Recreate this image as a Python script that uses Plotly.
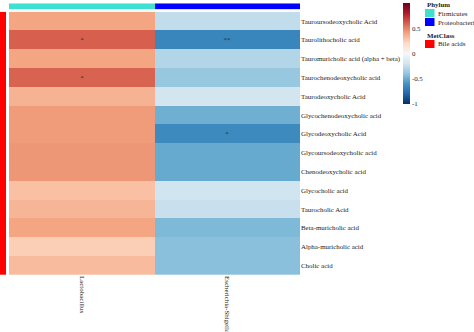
import plotly.graph_objects as go

# Bile-acid metabolites (rows) and genera (columns)
metabolites = [
    "Tauroursodeoxycholic Acid",
    "Taurolithocholic acid",
    "Tauromuricholic acid (alpha + beta)",
    "Taurochenodeoxycholic acid",
    "Taurodeoxycholic Acid",
    "Glycochenodeoxycholic acid",
    "Glycodeoxycholic Acid",
    "Glycoursodeoxycholic acid",
    "Chenodeoxycholic acid",
    "Glycocholic acid",
    "Taurocholic Acid",
    "Beta-muricholic acid",
    "Alpha-muricholic acid",
    "Cholic acid",
]
genera = ["Lactobacillus", "Escherichia-Shigella"]
phylum = ["Firmicutes", "Proteobacteria"]
metclass = ["Bile acids"] * len(metabolites)

# Correlation coefficients
r_lactobacillus = [0.40, 0.60, 0.40, 0.59, 0.35, 0.43, 0.43, 0.44, 0.44, 0.30, 0.34, 0.40, 0.25, 0.32]
r_escherichia = [-0.25, -0.66, -0.30, -0.38, -0.19, -0.49, -0.64, -0.51, -0.51, -0.20, -0.23, -0.45, -0.42, -0.42]

# Significance marks
sig_lactobacillus = ["", "*", "", "*", "", "", "", "", "", "", "", "", "", ""]
sig_escherichia = ["", "**", "", "", "", "", "*", "", "", "", "", "", "", ""]

phylum_colors = {"Firmicutes": "#40E0D0", "Proteobacteria": "#0000FF"}
metclass_colors = {"Bile acids": "#FF0000"}

# RdBu (ColorBrewer, 11 classes), low = blue, high = red
rdbu = ["#053061", "#2166ac", "#4393c3", "#92c5de", "#d1e5f0", "#f7f7f7",
        "#fddbc7", "#f4a582", "#d6604d", "#b2182b", "#67001f"]
colorscale = [[i / (len(rdbu) - 1), c] for i, c in enumerate(rdbu)]

W, H = 474, 332
SERIF = "Liberation Serif, Times New Roman, serif"
FS = 6.9

z = [[a, b] for a, b in zip(r_lactobacillus, r_escherichia)]
txt = [[a, b] for a, b in zip(sig_lactobacillus, sig_escherichia)]

fig = go.Figure()

fig.add_trace(go.Heatmap(
    z=z, x=genera, y=metabolites, text=txt, texttemplate="%{text}",
    textfont=dict(family=SERIF, size=7, color="#333333"),
    colorscale=colorscale, zmin=-1, zmax=1, hoverinfo="skip",
    colorbar=dict(
        thickness=7, thicknessmode="pixels",
        len=101, lenmode="pixels",
        x=403 / W, xanchor="left", y=1 - 3 / H, yanchor="top",
        xpad=0, ypad=0, outlinewidth=0, ticks="",
        tickvals=[1, 0.5, 0, -0.5, -1], ticktext=["1", "0.5", "0", "-0.5", "-1"],
        tickfont=dict(family=SERIF, size=FS, color="#222222"),
    ),
    xaxis="x", yaxis="y",
))

# Column annotation bar (phylum)
ph_names = list(phylum_colors)
ph_idx = [ph_names.index(p) for p in phylum]
ph_scale = [[0, phylum_colors[ph_names[0]]], [1, phylum_colors[ph_names[1]]]]
fig.add_trace(go.Heatmap(
    z=[ph_idx], x=genera, y=["Phylum"], colorscale=ph_scale, zmin=0, zmax=1,
    showscale=False, hoverinfo="skip", xaxis="x2", yaxis="y2",
))

# Row annotation bar (metabolite class)
mc_names = list(metclass_colors)
mc_idx = [[mc_names.index(m)] for m in metclass]
mc_scale = [[0, metclass_colors[mc_names[0]]], [1, metclass_colors[mc_names[0]]]]
fig.add_trace(go.Heatmap(
    z=mc_idx, x=["MetClass"], y=metabolites, colorscale=mc_scale, zmin=0, zmax=1,
    showscale=False, hoverinfo="skip", xaxis="x3", yaxis="y3",
))

main_x = [9 / W, 300 / W]
main_y = [1 - 275 / H, 1 - 11.7 / H]

fig.update_layout(
    width=W, height=H, margin=dict(l=0, r=0, t=0, b=0),
    paper_bgcolor="white", plot_bgcolor="white", showlegend=False,
    xaxis=dict(domain=main_x, showgrid=False, zeroline=False, ticks="",
               tickangle=90, side="bottom",
               tickfont=dict(family=SERIF, size=FS, color="#222222")),
    yaxis=dict(domain=main_y, showgrid=False, zeroline=False, ticks="",
               autorange="reversed", side="right", anchor="x",
               tickfont=dict(family=SERIF, size=FS, color="#222222")),
    xaxis2=dict(domain=main_x, anchor="y2", showticklabels=False, showgrid=False,
                zeroline=False, ticks=""),
    yaxis2=dict(domain=[1 - 9.4 / H, 1 - 3.3 / H], anchor="x2", showticklabels=False,
                showgrid=False, zeroline=False, ticks=""),
    xaxis3=dict(domain=[0, 6 / W], anchor="y3", showticklabels=False, showgrid=False,
                zeroline=False, ticks=""),
    yaxis3=dict(domain=main_y, anchor="x3", showticklabels=False, showgrid=False,
                zeroline=False, ticks="", autorange="reversed"),
)

# Legend for annotation bars
legend_blocks = [("Phylum", phylum_colors), ("MetClass", metclass_colors)]
lx, sw, row_h = 425, 9.5, 9
ycur = 4.5
shapes, annos = [], []
for title, cmap in legend_blocks:
    annos.append(dict(x=lx / W, y=1 - ycur / H, xref="paper", yref="paper",
                      text=f"<b>{title}</b>", showarrow=False, xanchor="left",
                      yanchor="middle", font=dict(family=SERIF, size=FS, color="#222222")))
    ycur += 4.5
    for name, col in cmap.items():
        shapes.append(dict(type="rect", xref="paper", yref="paper",
                           x0=lx / W, x1=(lx + sw) / W,
                           y0=1 - (ycur + 8) / H, y1=1 - ycur / H,
                           fillcolor=col, line=dict(width=0)))
        annos.append(dict(x=(lx + sw + 1.5) / W, y=1 - (ycur + 4) / H,
                          xref="paper", yref="paper", text=name, showarrow=False,
                          xanchor="left", yanchor="middle",
                          font=dict(family=SERIF, size=FS, color="#222222")))
        ycur += row_h
    ycur += 8.5

fig.update_layout(shapes=shapes, annotations=annos)

fig.write_html("out.html")
